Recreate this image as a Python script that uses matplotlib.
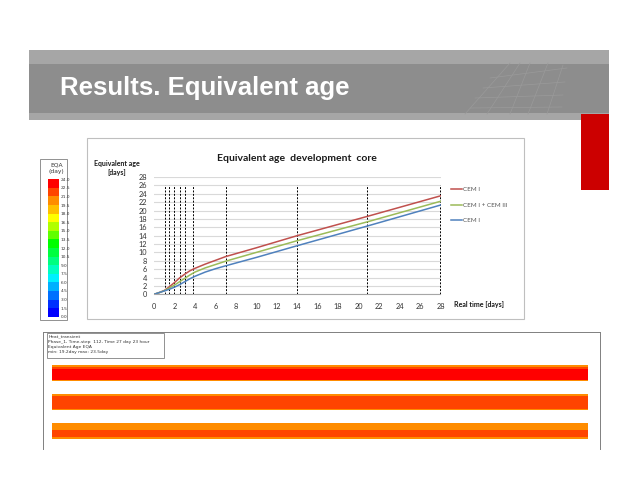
import numpy as np
import matplotlib
matplotlib.use("Agg")
import matplotlib.pyplot as plt
import matplotlib as mpl
from matplotlib.patches import Rectangle
from matplotlib.lines import Line2D
from matplotlib.colors import ListedColormap, BoundaryNorm

# ---------------- data ----------------
real_time = [0, 0.5, 1, 1.5, 2, 2.5, 3, 3.5, 4, 5, 6, 7, 10, 14, 21, 28]
eqa_cem1 = [0, 0.4, 0.9, 1.8, 2.8, 3.9, 4.8, 5.6, 6.2, 7.2, 8.1, 9.0, 11.1, 14.0, 18.7, 23.5]
eqa_cem1_cem3 = [0, 0.4, 0.85, 1.5, 2.2, 3.0, 3.8, 4.6, 5.3, 6.3, 7.1, 7.9, 10.0, 12.8, 17.4, 22.2]
eqa_cem1_b = [0, 0.4, 0.8, 1.2, 1.7, 2.3, 3.0, 3.7, 4.3, 5.3, 6.1, 6.8, 8.8, 11.6, 16.4, 21.3]
series_labels = ["CEM I", "CEM I + CEM III", "CEM I"]
series_colors = ["#c0504d", "#9bbb59", "#4f81bd"]
marker_days = [1.1, 1.5, 2, 2.5, 3, 3.8, 7, 14, 20.8, 28]
x_ticks = list(range(0, 29, 2))
y_ticks = list(range(0, 29, 2))

eqa_levels = [0.0, 1.5, 3.0, 4.5, 6.0, 7.5, 9.0, 10.5, 12.0, 13.5, 15.0,
              16.5, 18.0, 19.5, 21.0, 22.5, 24.0]
eqa_colors = ['#0000ff', '#0030ff', '#0070ff', '#00b0ff', '#00f0ff', '#00ffc0',
              '#00ff80', '#00ff40', '#00ff00', '#60ff00', '#b0ff00', '#ffff00',
              '#ffc000', '#ff8c00', '#ff4400', '#ff0000']

# EQA values (days) across the thickness of each section, top to bottom
bar1_rows = [20, 20, 22, 22, 23, 23, 23, 23, 23, 23, 23, 23, 23, 23, 23, 20]
bar2_rows = [20, 20, 22, 22, 22, 22, 22, 22, 22, 22, 22, 22, 22, 22, 22, 20]
bar3_rows = [20, 20, 20, 20, 20, 20, 20, 22, 22, 22, 22, 22, 22, 22, 20, 20]

info_lines = ["Heat_transient",
              "Phase_1, Time-step  112, Time 27 day 23 hour",
              "Equivalent Age EQA",
              "min: 19.2day max: 23.5day"]

# ---------------- layout helpers ----------------
W, H = 638, 493
fig = plt.figure(figsize=(W / 100, H / 100), dpi=100)
fig.patch.set_facecolor("white")


def fx(x):
    return x / W


def fy(y):
    return 1 - y / H


def frect(x0, y0, x1, y1):
    return [fx(x0), fy(y1), (x1 - x0) / W, (y1 - y0) / H]


def add_rect(x0, y0, x1, y1, zorder=-1, **kw):
    r = Rectangle((fx(x0), fy(y1)), (x1 - x0) / W, (y1 - y0) / H,
                  transform=fig.transFigure, zorder=zorder, **kw)
    fig.add_artist(r)
    return r


def add_line(xs, ys, zorder=-1, **kw):
    fig.add_artist(Line2D([fx(x) for x in xs], [fy(y) for y in ys],
                          transform=fig.transFigure, zorder=zorder, **kw))


# ---------------- slide header ----------------
add_rect(29, 50, 609, 120, facecolor="#a6a6a6", edgecolor="none")
add_rect(29, 64, 609, 113, facecolor="#8d8d8d", edgecolor="none")
# faint mesh decoration
mesh_v = [((465, 114), (510, 63)), ((487, 114), (520, 63)), ((510, 114), (530, 63)),
          ((528, 114), (548, 63)), ((547, 114), (563, 65))]
mesh_h = [((490, 78), (567, 68)), ((483, 88), (565, 82)), ((475, 98), (563, 95)),
          ((470, 108), (562, 107))]
for (a, b) in mesh_v + mesh_h:
    add_line([a[0], b[0]], [a[1], b[1]], color="#9a9a9a", lw=0.5)
add_rect(581, 114, 609, 190, facecolor="#cc0000", edgecolor="none")
fig.text(fx(60), fy(88), "Results. Equivalent age", color="white",
         fontsize=18.5, fontweight="bold", family="Liberation Sans",
         ha="left", va="center")

# ---------------- colour legend (EQA) ----------------
cmap = ListedColormap(eqa_colors)
norm = BoundaryNorm(eqa_levels, cmap.N)
add_rect(40, 159, 67, 320, facecolor="white", edgecolor="#808080", lw=0.6)
fig.text(fx(56.5), fy(165), "EQA", fontsize=4.3, ha="center", va="center", color="#333333")
fig.text(fx(56.5), fy(171.7), "(day)", fontsize=4.3, ha="center", va="center", color="#333333")
cax = fig.add_axes(frect(48.3, 179.3, 59.3, 316.7))
cb = mpl.colorbar.ColorbarBase(cax, cmap=cmap, norm=norm, ticks=eqa_levels,
                               spacing="uniform", orientation="vertical")
cb.outline.set_visible(False)
cax.set_yticklabels([f"{v:.1f}" for v in eqa_levels])
cax.tick_params(length=0, labelsize=3.1, pad=1.0, colors="#333333")

# ---------------- main chart ----------------
add_rect(87, 138, 524, 319, facecolor="white", edgecolor="#bfbfbf", lw=0.8)
ax = fig.add_axes(frect(154, 177, 440.5, 294.3))
ax.patch.set_alpha(0)
ax.set_xlim(0, 28)
ax.set_ylim(0, 28)
ax.set_xticks(x_ticks)
ax.set_yticks(y_ticks)
ax.yaxis.grid(True, color="#d9d9d9", lw=0.8)
ax.set_axisbelow(True)
for s in ["left", "top", "right"]:
    ax.spines[s].set_visible(False)
ax.spines["bottom"].set_color("#a6a6a6")
ax.spines["bottom"].set_linewidth(0.8)
ax.tick_params(axis="both", length=0, labelsize=5.3, colors="#333333")
ax.tick_params(axis="y", pad=5)
ax.tick_params(axis="x", pad=6)
for lbl in ax.get_xticklabels() + ax.get_yticklabels():
    lbl.set_family("Lato")
ax.vlines(marker_days, 0, 26, colors="black", linestyles=(0, (2, 1.5)), lw=0.7)
handles = []
for ys, c in zip([eqa_cem1, eqa_cem1_cem3, eqa_cem1_b], series_colors):
    h, = ax.plot(real_time, ys, color=c, lw=1.1)
    handles.append(h)
leg = ax.legend(handles, series_labels, loc="center left",
                bbox_to_anchor=(fx(450.5), fy(205)), bbox_transform=fig.transFigure,
                frameon=False, handlelength=1.8, handletextpad=0.2,
                labelspacing=1.6, borderpad=0, borderaxespad=0,
                prop={"family": "Lato", "size": 4.5})
for t in leg.get_texts():
    t.set_color("#555555")

fig.text(fx(297), fy(158), "Equivalent age  development  core", fontsize=7.5,
         fontweight="bold", family="Lato", ha="center", va="center", color="#1a1a1a")
fig.text(fx(117), fy(163.3), "Equivalent age", fontsize=5, fontweight="bold",
         family="Lato", ha="center", va="center", color="#1a1a1a")
fig.text(fx(117), fy(172.3), "[days]", fontsize=5, fontweight="bold",
         family="Lato", ha="center", va="center", color="#1a1a1a")
fig.text(fx(454), fy(304.3), "Real time [days]", fontsize=5, fontweight="bold",
         family="Lato", ha="left", va="center", color="#1a1a1a")

# ---------------- simulation result panel ----------------
add_line([43, 43], [332, 449], color="#808080", lw=0.7)
add_line([43, 600], [332, 332], color="#808080", lw=0.7)
add_line([600, 600], [332, 449], color="#808080", lw=0.7)
add_rect(47, 333, 164, 358, facecolor="white", edgecolor="#808080", lw=0.6)
for i, s in enumerate(info_lines):
    fig.text(fx(48.5), fy(336 + i * 5.5), s, fontsize=3.2, ha="left", va="center",
             color="#333333")

for rows, (y0, y1) in zip([bar1_rows, bar2_rows, bar3_rows],
                          [(365, 381), (394, 410), (423, 439)]):
    bax = fig.add_axes(frect(51.7, y0, 587.3, y1))
    bax.imshow(np.array(rows, dtype=float)[:, None], cmap=cmap, norm=norm,
               aspect="auto", interpolation="nearest")
    bax.axis("off")

fig.savefig("out.png", dpi=100)
